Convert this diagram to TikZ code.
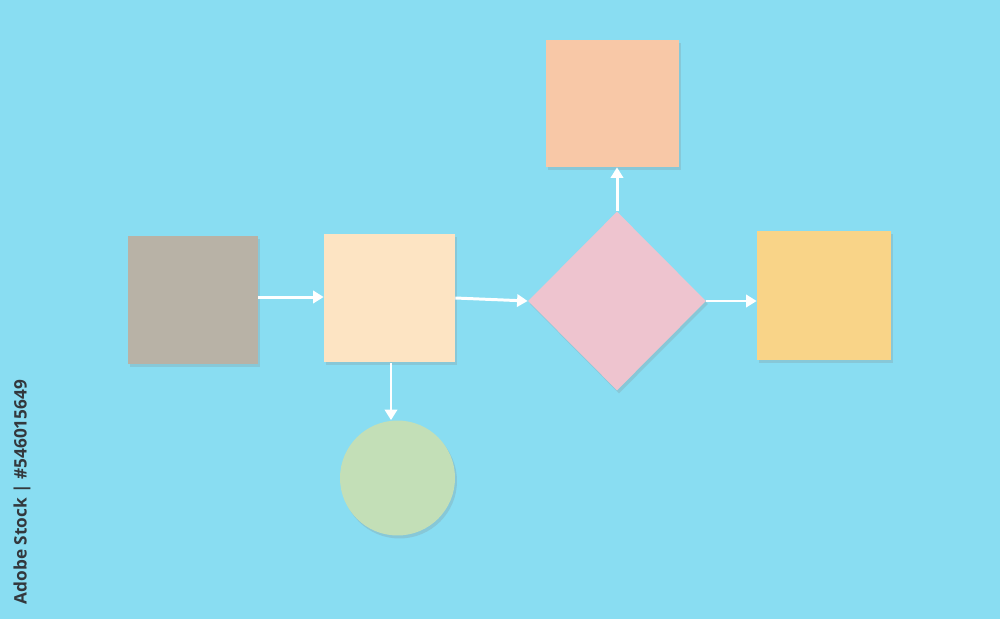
\documentclass[tikz,border=0pt]{standalone}
\usepackage{fontspec}
\setmainfont{Open Sans}
\usetikzlibrary{shapes.geometric,arrows.meta,shadows}
\definecolor{bgblue}{HTML}{89DDF2}
\definecolor{graycard}{HTML}{B8B2A6}
\definecolor{creamcard}{HTML}{FDE4C3}
\definecolor{peachcard}{HTML}{F8C8A7}
\definecolor{pinkcard}{HTML}{EEC4CF}
\definecolor{yellowcard}{HTML}{F9D488}
\definecolor{greencard}{HTML}{C3DFB7}
\definecolor{idtext}{HTML}{33383D}
\tikzset{
  card/.style={draw=none, inner sep=0pt, drop shadow={opacity=0.22, shadow xshift=0.04cm, shadow yshift=-0.06cm}},
  sqcard/.style={card, rectangle},
  link/.style={draw=white, line width=1.7pt, -{Triangle[length=6pt,width=7pt]}},
}
\begin{document}
\begin{tikzpicture}[x=0.02cm,y=-0.02cm]
\fill[bgblue] (0,0) rectangle (1000,619);
\useasboundingbox (0,0) rectangle (1000,619);
\node[sqcard, fill=graycard, minimum width=2.60cm, minimum height=2.56cm] (gray) at (193,300) {};
\node[sqcard, fill=creamcard, minimum width=2.62cm, minimum height=2.58cm] (cream) at (389.5,298) {};
\node[sqcard, fill=peachcard, minimum width=2.66cm, minimum height=2.54cm] (peach) at (612.5,103.5) {};
\node[sqcard, fill=yellowcard, minimum width=2.68cm, minimum height=2.58cm] (yellow) at (824,295.5) {};
\node[card, diamond, fill=pinkcard, minimum width=3.56cm, minimum height=3.58cm] (dia) at (617,301) {};
\node[card, circle, fill=greencard, minimum size=2.30cm] (circ) at (397.5,478) {};
\draw[link] ([yshift=0.06cm]gray.east) -- ([yshift=0.06cm]gray.east -| cream.west);
\draw[link] (cream.east) -- (dia.west);
\draw[link] (dia.east) -- (dia.east -| yellow.west);
\draw[link] (dia.north) -- (dia.north |- peach.south);
\draw[link] ([xshift=0.03cm]cream.south) -- ([xshift=0.03cm]cream.south |- circ.north);
\node[rotate=90, text=idtext, font=\bfseries\fontsize{9.8}{12}\selectfont, inner sep=0pt] (stockid) at (22,492) {Adobe Stock | \#546015649};
\end{tikzpicture}
\end{document}
